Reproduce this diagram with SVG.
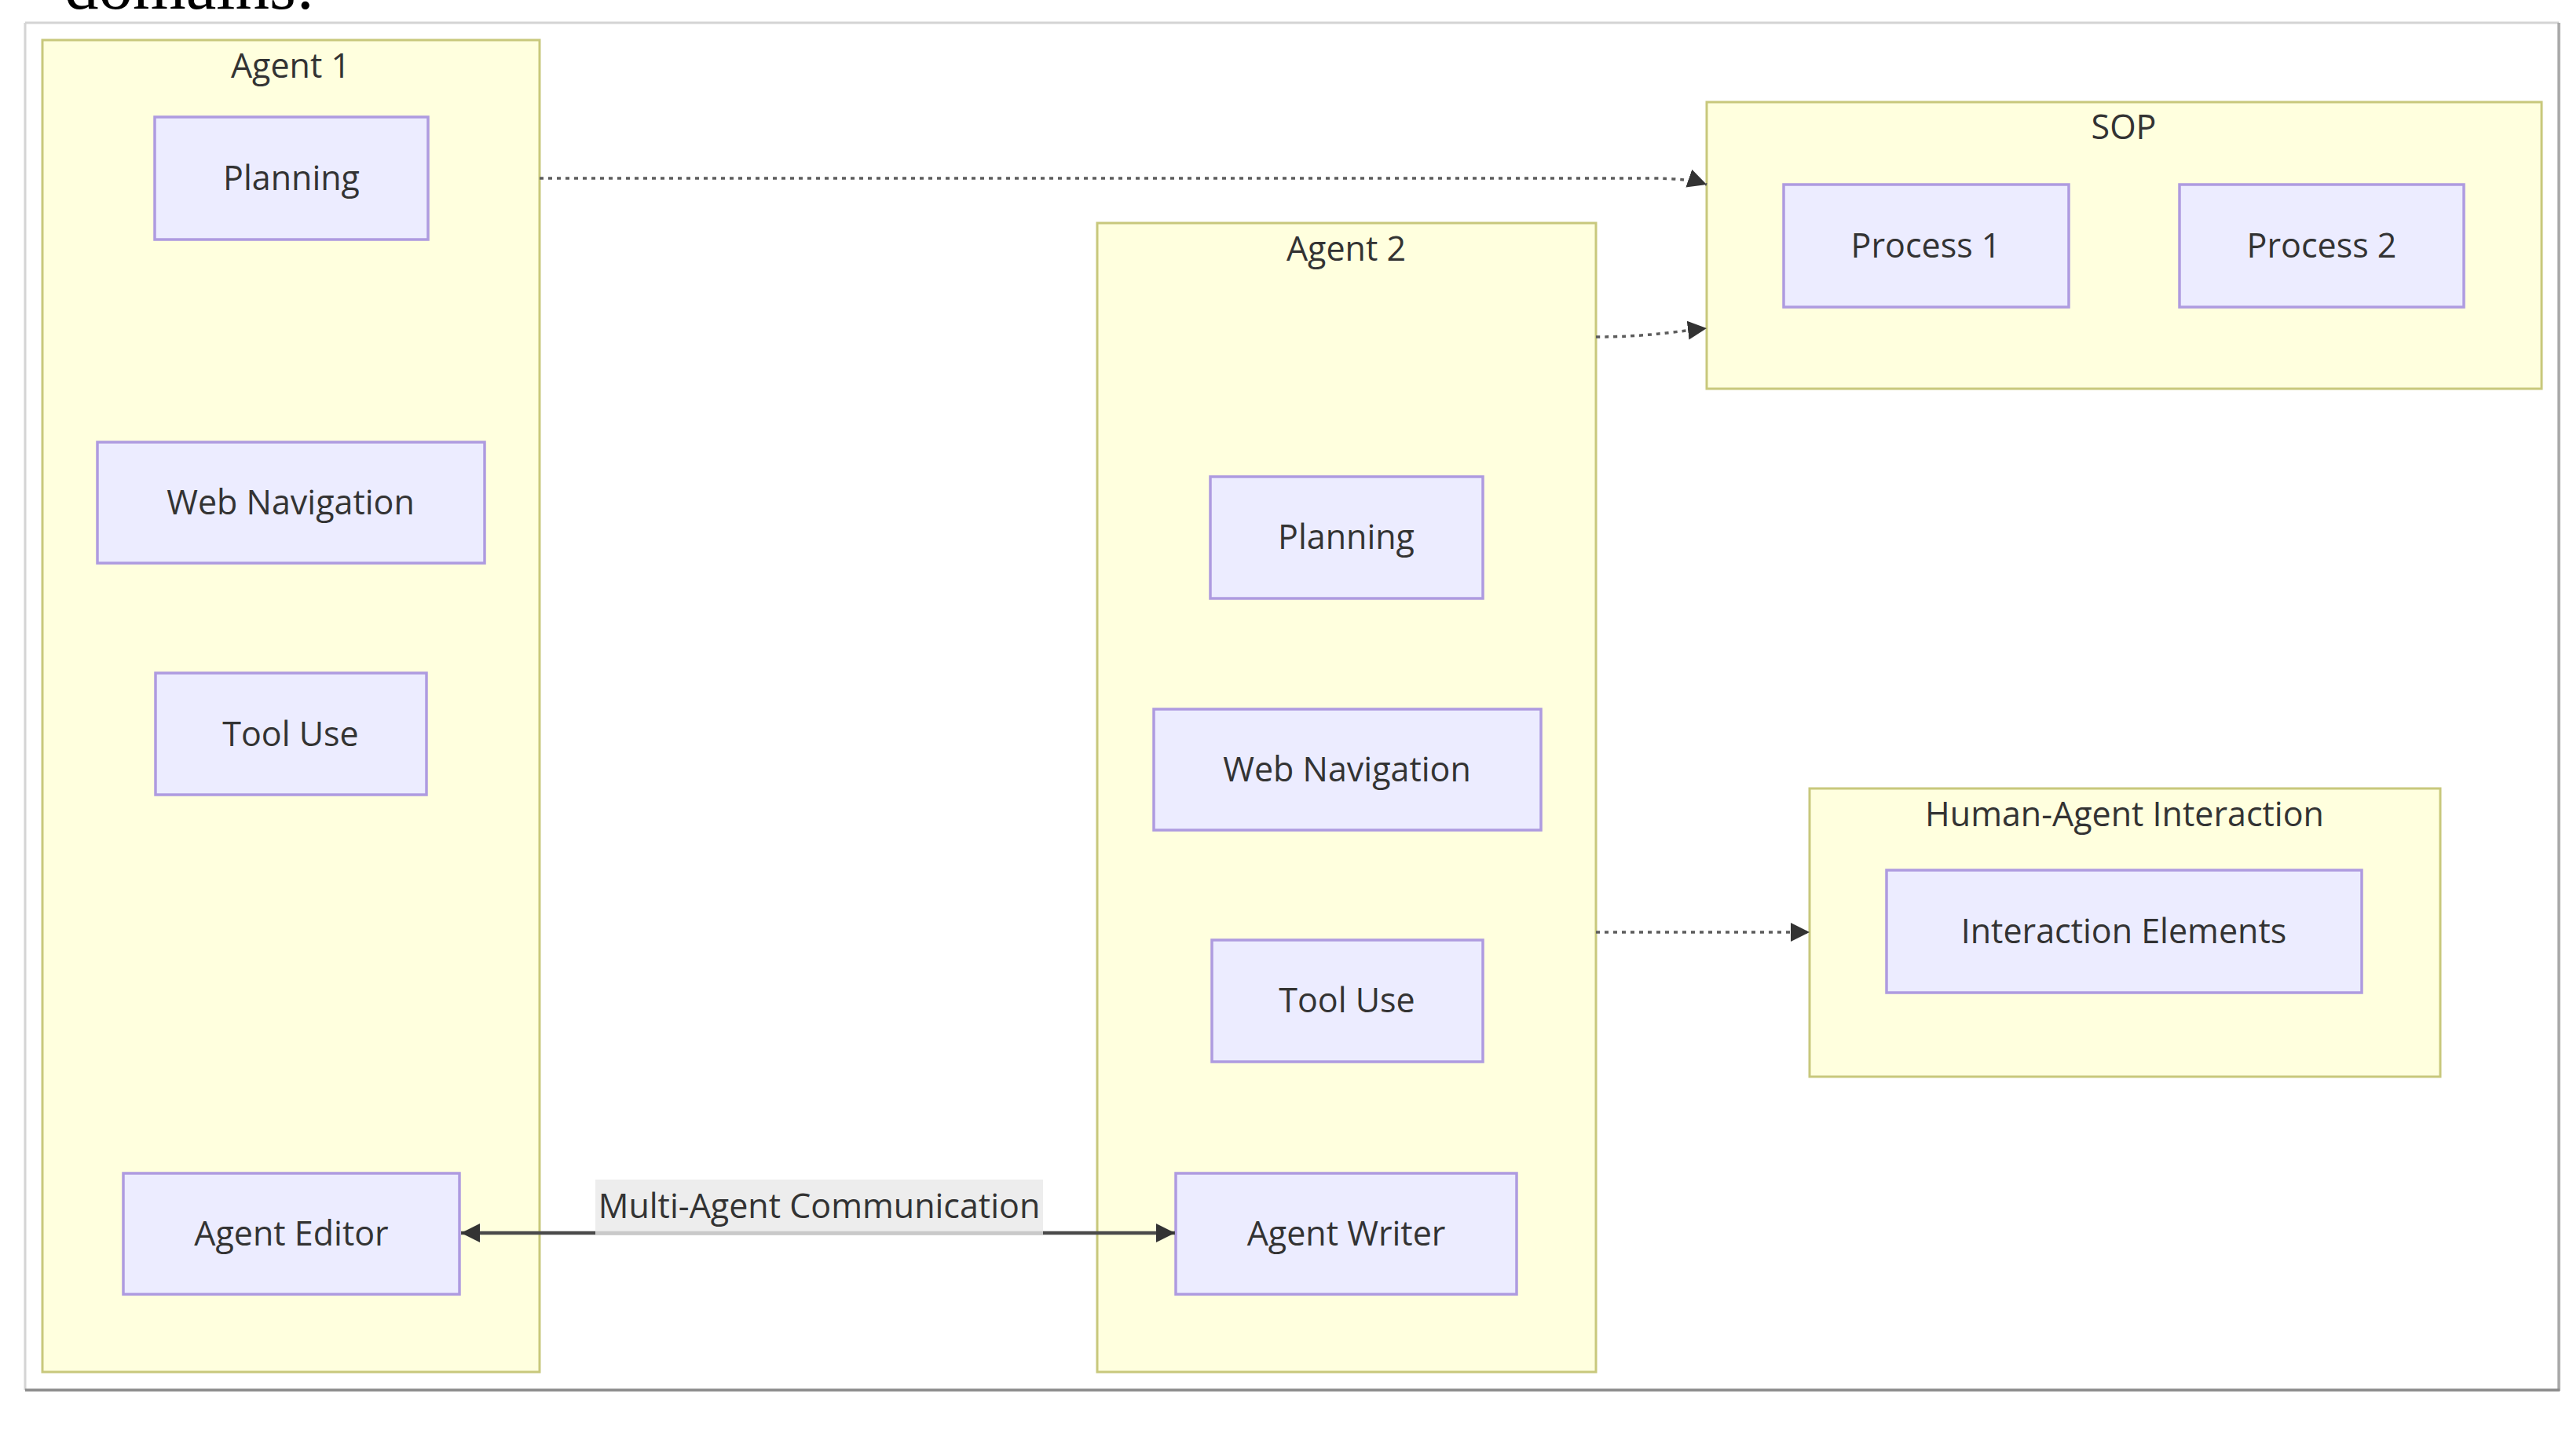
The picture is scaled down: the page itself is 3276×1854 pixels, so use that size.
<svg xmlns="http://www.w3.org/2000/svg" width="3276" height="1854" viewBox="0 0 3276 1854">
  <defs>
    <style>
      .cluster { fill: #ffffde; stroke: #c8c87c; stroke-width: 3; }
      .node { fill: #ececff; stroke: #ae9be0; stroke-width: 3.5; }
      .lbl { font-family: "Open Sans", "Noto Sans", sans-serif; font-size: 43px; fill: #333333; text-anchor: middle; }
      .dotted { fill: none; stroke: #5c5c5c; stroke-width: 3.5; stroke-dasharray: 5 6; }
      .solid { fill: none; stroke: #4a4a4a; stroke-width: 4.5; }
    </style>
    <marker id="arrowEnd" markerUnits="userSpaceOnUse" markerWidth="26" markerHeight="26" refX="24" refY="12" orient="auto">
      <path d="M0,0 L24,12 L0,24 Z" fill="#333333"/>
    </marker>
    <marker id="arrowStart" markerUnits="userSpaceOnUse" markerWidth="26" markerHeight="26" refX="0" refY="12" orient="auto">
      <path d="M24,0 L0,12 L24,24 Z" fill="#333333"/>
    </marker>
  </defs>

  <rect x="0" y="0" width="3276" height="1854" fill="#ffffff"/>

  <text x="82" y="11" font-family="Liberation Serif, serif" font-size="87" fill="#000000">domains:</text>

  <g id="frame">
    <line x1="32" y1="29" x2="3258" y2="29" stroke="#d4d4d4" stroke-width="3"/>
    <line x1="32" y1="29" x2="32" y2="1770" stroke="#d4d4d4" stroke-width="3"/>
    <line x1="3258" y1="29" x2="3258" y2="1771" stroke="#a6a6a6" stroke-width="3.5"/>
    <line x1="32" y1="1770" x2="3259" y2="1770" stroke="#8a8a8a" stroke-width="3.5"/>
  </g>

  <g id="agent1">
    <rect class="cluster" x="54" y="51" width="633" height="1696"/>
    <text class="lbl" x="370" y="99">Agent 1</text>
  </g>
  <g id="agent2">
    <rect class="cluster" x="1397" y="284" width="635" height="1463"/>
    <text class="lbl" x="1714" y="332">Agent 2</text>
  </g>
  <g id="sop">
    <rect class="cluster" x="2173" y="130" width="1063" height="365"/>
    <text class="lbl" x="2704" y="177">SOP</text>
  </g>
  <g id="hai">
    <rect class="cluster" x="2304" y="1004" width="803" height="367"/>
    <text class="lbl" x="2705" y="1052">Human-Agent Interaction</text>
  </g>

  <g id="a1-planning">
    <rect class="node" x="197" y="149" width="348" height="156"/>
    <text class="lbl" x="371" y="242">Planning</text>
  </g>
  <g id="a1-webnav">
    <rect class="node" x="124" y="563" width="493" height="154"/>
    <text class="lbl" x="370" y="655">Web Navigation</text>
  </g>
  <g id="a1-tooluse">
    <rect class="node" x="198" y="857" width="345" height="155"/>
    <text class="lbl" x="370" y="950">Tool Use</text>
  </g>
  <g id="agent-editor">
    <rect class="node" x="157" y="1494" width="428" height="154"/>
    <text class="lbl" x="371" y="1586">Agent Editor</text>
  </g>

  <g id="a2-planning">
    <rect class="node" x="1541" y="607" width="347" height="155"/>
    <text class="lbl" x="1714" y="699">Planning</text>
  </g>
  <g id="a2-webnav">
    <rect class="node" x="1469" y="903" width="493" height="154"/>
    <text class="lbl" x="1715" y="995">Web Navigation</text>
  </g>
  <g id="a2-tooluse">
    <rect class="node" x="1543" y="1197" width="345" height="155"/>
    <text class="lbl" x="1715" y="1289">Tool Use</text>
  </g>
  <g id="agent-writer">
    <rect class="node" x="1497" y="1494" width="434" height="154"/>
    <text class="lbl" x="1714" y="1586">Agent Writer</text>
  </g>

  <g id="process1">
    <rect class="node" x="2271" y="235" width="363" height="156"/>
    <text class="lbl" x="2452" y="328">Process 1</text>
  </g>
  <g id="process2">
    <rect class="node" x="2775" y="235" width="362" height="156"/>
    <text class="lbl" x="2956" y="328">Process 2</text>
  </g>
  <g id="interaction-elements">
    <rect class="node" x="2402" y="1108" width="605" height="156"/>
    <text class="lbl" x="2704" y="1201">Interaction Elements</text>
  </g>

  <g id="connectors">
    <path class="dotted" d="M687,227 L2100,227 Q2150,227 2173,235" marker-end="url(#arrowEnd)"/>
    <path class="dotted" d="M2032,429 C2090,429 2120,424 2173,418" marker-end="url(#arrowEnd)"/>
    <path class="dotted" d="M2032,1187 L2304,1187" marker-end="url(#arrowEnd)"/>
    <path class="solid" d="M587,1570 L1496,1570" marker-start="url(#arrowStart)" marker-end="url(#arrowEnd)"/>
    <g id="edge-label">
      <rect x="758" y="1502" width="570" height="70" fill="#e8e8e8" fill-opacity="0.8"/>
      <text class="lbl" x="1043" y="1551">Multi-Agent Communication</text>
    </g>
  </g>
</svg>
